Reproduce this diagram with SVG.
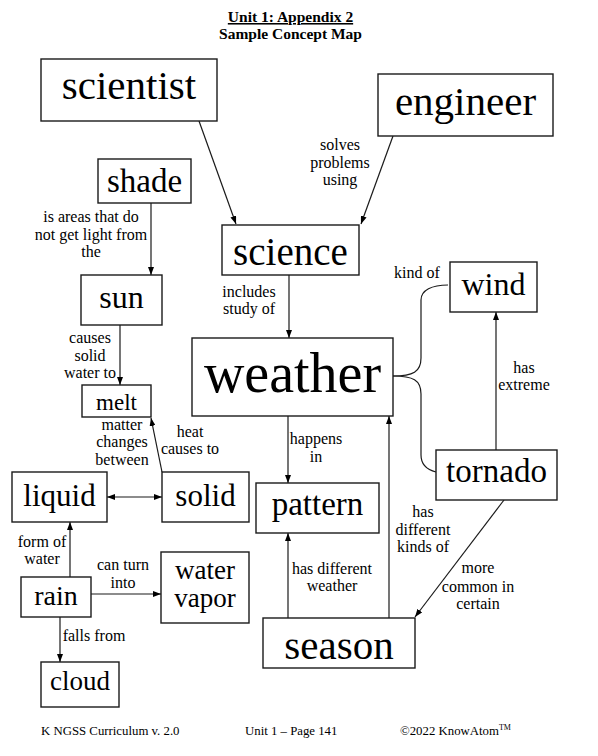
<svg xmlns="http://www.w3.org/2000/svg" width="598" height="756" viewBox="0 0 598 756">
<style>
text{font-family:"Liberation Serif","Times New Roman",serif;fill:#000}
.box{fill:#fff;stroke:#1a1a1a;stroke-width:1.4}
.node{text-anchor:middle}
.lbl{font-size:16px;text-anchor:middle}
.con{fill:none;stroke:#1a1a1a;stroke-width:1.2}
.arr{marker-end:url(#ah)}
.foot{font-size:12.8px}
</style>
<defs>
<marker id="ah" viewBox="0 0 8 6" refX="8" refY="3" markerWidth="8" markerHeight="6" markerUnits="userSpaceOnUse" orient="auto">
<path d="M0,0 L8,3 L0,6 Z" fill="#000"/>
</marker>
<marker id="ahs" viewBox="0 0 8 6" refX="8" refY="3" markerWidth="8" markerHeight="6" markerUnits="userSpaceOnUse" orient="auto-start-reverse">
<path d="M0,0 L8,3 L0,6 Z" fill="#000"/>
</marker>
</defs>
<rect width="598" height="756" fill="#fff"/>
<g id="title">
<text x="290.5" y="22" font-size="15.5" font-weight="bold" text-anchor="middle" text-decoration="underline">Unit 1: Appendix 2</text>
<text x="290.5" y="39" font-size="15.5" font-weight="bold" text-anchor="middle">Sample Concept Map</text>
</g>
<g id="connectors">
<path class="con arr" d="M199,121 L236,224"/>
<path class="con arr" d="M393,136 L361,224"/>
<path class="con arr" d="M151,203 L151,275"/>
<path class="con arr" d="M289,275 L289,338"/>
<path class="con arr" d="M120,325 L120,385"/>
<path class="con arr" d="M288,416 L288,483"/>
<path class="con arr" d="M162,472 L151,418"/>
<path class="con" d="M107,497 L162,497" marker-start="url(#ahs)" marker-end="url(#ah)"/>
<path class="con arr" d="M70,577 L70,522"/>
<path class="con arr" d="M91,594 L161,594"/>
<path class="con arr" d="M60,617 L60,662"/>
<path class="con arr" d="M288,618 L288,533"/>
<path class="con arr" d="M389,618 L389,416"/>
<path class="con arr" d="M504,500 L415,617"/>
<path class="con arr" d="M496,450 L496,312"/>
<path class="con" d="M393,376 C413,376 421,372 421,358 L421,300 C421,290 432,285 448,285"/>
<path class="con" d="M393,376 C413,376 421,380 421,394 L421,455 C421,465 428,470 436,472"/>
</g>
<g id="labels">
<text class="lbl" x="91" y="222">is areas that do</text>
<text class="lbl" x="91" y="239.5">not get light from</text>
<text class="lbl" x="91" y="257">the</text>
<text class="lbl" x="340" y="150">solves</text>
<text class="lbl" x="340" y="168">problems</text>
<text class="lbl" x="340" y="185">using</text>
<text class="lbl" x="249" y="297">includes</text>
<text class="lbl" x="249" y="314">study of</text>
<text class="lbl" x="417" y="278">kind of</text>
<text class="lbl" x="90" y="343">causes</text>
<text class="lbl" x="90" y="361">solid</text>
<text class="lbl" x="90" y="378">water to</text>
<text class="lbl" x="524" y="373">has</text>
<text class="lbl" x="524" y="390">extreme</text>
<text class="lbl" x="122" y="430">matter</text>
<text class="lbl" x="122" y="447">changes</text>
<text class="lbl" x="122" y="465">between</text>
<text class="lbl" x="190" y="437">heat</text>
<text class="lbl" x="190" y="454">causes to</text>
<text class="lbl" x="316" y="444">happens</text>
<text class="lbl" x="316" y="462">in</text>
<text class="lbl" x="423" y="517">has</text>
<text class="lbl" x="423" y="535">different</text>
<text class="lbl" x="423" y="552">kinds of</text>
<text class="lbl" x="42" y="547">form of</text>
<text class="lbl" x="42" y="564">water</text>
<text class="lbl" x="123" y="570">can turn</text>
<text class="lbl" x="123" y="588">into</text>
<text class="lbl" x="332" y="574">has different</text>
<text class="lbl" x="332" y="591">weather</text>
<text class="lbl" x="478" y="573">more</text>
<text class="lbl" x="478" y="592">common in</text>
<text class="lbl" x="478" y="609">certain</text>
<text class="lbl" x="94" y="641">falls from</text>
</g>
<g id="scientist"><rect class="box" x="41" y="59" width="176" height="62"/><text class="node" x="129" y="99" font-size="41">scientist</text></g>
<g id="engineer"><rect class="box" x="378" y="74" width="175" height="62"/><text class="node" x="465.5" y="115" font-size="41">engineer</text></g>
<g id="shade"><rect class="box" x="98" y="159" width="93" height="44"/><text class="node" x="144.5" y="192" font-size="33">shade</text></g>
<g id="science"><rect class="box" x="222" y="225" width="137" height="50"/><text class="node" x="290.5" y="265" font-size="39">science</text></g>
<g id="wind"><rect class="box" x="450" y="262" width="87" height="50"/><text class="node" x="493.5" y="295" font-size="32">wind</text></g>
<g id="sun"><rect class="box" x="81" y="275" width="81" height="50"/><text class="node" x="121.5" y="308" font-size="32">sun</text></g>
<g id="weather"><rect class="box" x="192" y="338" width="201" height="78"/><text class="node" x="292.5" y="392" font-size="56">weather</text></g>
<g id="melt"><rect class="box" x="82" y="385" width="69" height="32"/><text class="node" x="116.5" y="410" font-size="23">melt</text></g>
<g id="tornado"><rect class="box" x="436" y="450" width="121" height="50"/><text class="node" x="496.5" y="482" font-size="33">tornado</text></g>
<g id="liquid"><rect class="box" x="12" y="472" width="95" height="50"/><text class="node" x="59.5" y="506" font-size="31">liquid</text></g>
<g id="solid"><rect class="box" x="162" y="472" width="87" height="50"/><text class="node" x="205.5" y="506" font-size="31">solid</text></g>
<g id="pattern"><rect class="box" x="256" y="483" width="123" height="50"/><text class="node" x="317.5" y="515" font-size="33">pattern</text></g>
<g id="rain"><rect class="box" x="21" y="577" width="70" height="40"/><text class="node" x="56" y="605" font-size="28">rain</text></g>
<g id="water-vapor"><rect class="box" x="161" y="552" width="88" height="71"/><text class="node" x="205" y="579" font-size="27">water</text><text class="node" x="205" y="607" font-size="27">vapor</text></g>
<g id="season"><rect class="box" x="263" y="618" width="152" height="50"/><text class="node" x="339" y="659" font-size="41">season</text></g>
<g id="cloud"><rect class="box" x="41" y="662" width="78" height="45"/><text class="node" x="80" y="690" font-size="27">cloud</text></g>
<g id="footer">
<text class="foot" x="41" y="735">K NGSS Curriculum v. 2.0</text>
<text class="foot" x="245" y="735">Unit 1 – Page 141</text>
<text class="foot" x="400" y="735">©2022 KnowAtom<tspan font-size="8" dy="-5">TM</tspan></text>
</g>
</svg>
